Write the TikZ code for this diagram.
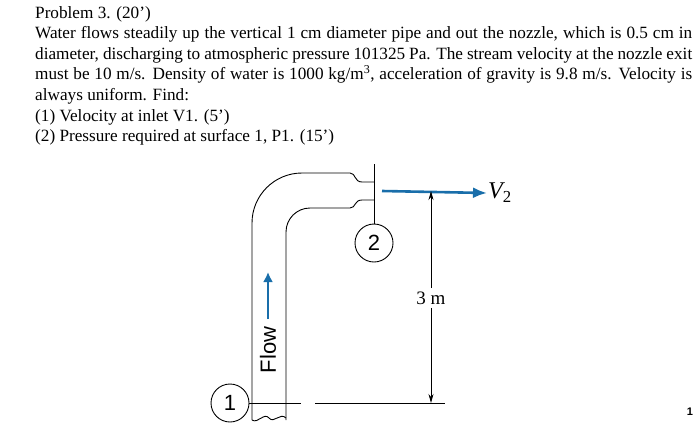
\documentclass[tikz,border=0pt]{standalone}
\usepackage{fontspec}
\setmainfont{Liberation Serif}
\newfontfamily\sansf{Liberation Sans}
\begin{document}
\begin{tikzpicture}[x=1pt,y=-1pt,
  wall/.style={line width=0.9pt,black},
  blue arrow/.style={line width=2.6pt,color=flowblue,-{Latex[length=14pt,width=11pt]}},
  station/.style={circle,draw,line width=0.9pt,minimum size=38pt,inner sep=0pt,font=\sansf\fontsize{22}{22}\selectfont}]
\usetikzlibrary{arrows.meta}
\definecolor{flowblue}{RGB}{25,110,170}
\useasboundingbox (0,0) rectangle (700,434);
\node[anchor=north west,inner sep=0pt,text width=657pt,align=justify,font=\fontsize{17.2}{20.6}\selectfont] (txt) at (35,6)
{Problem 3. (20’)\\
Water flows steadily up the vertical 1 cm diameter pipe and out the nozzle, which is 0.5 cm in diameter, discharging to atmospheric pressure 101325 Pa. The stream velocity at the nozzle exit must be 10 m/s. Density of water is 1000 kg/m\textsuperscript{3}, acceleration of gravity is 9.8 m/s. Velocity is always uniform. Find:\\
(1) Velocity at inlet V1. (5’)\\
(2) Pressure required at surface 1, P1. (15’)};
% pipe
\draw[wall] (252,420) -- (252,223) arc[start angle=180,end angle=270,radius=50] -- (350,173)
  .. controls (356,173) and (354,182) .. (362,182) -- (374,182);
\draw[wall] (286,420) -- (286,232) arc[start angle=180,end angle=270,radius=24] -- (350,208)
  .. controls (356,208) and (354,200) .. (362,200) -- (374,200);
\draw[wall] (252,420) .. controls (258,424) and (264,412) .. (269,418) .. controls (274,424) and (280,412) .. (286,418);
\node[station] (s2) at (374,243) {2};
\coordinate (ntop) at (374,164);
\draw[wall] (ntop) -- (s2.north);
\node[station] (s1) at (230,403) {1};
\coordinate (b1) at (301,403);
\coordinate (b2) at (315,403);
\coordinate (b3) at (445,403);
\draw[wall] (s1.east) -- (b1);
\draw[wall] (b2) -- (b3);
% velocity
\coordinate (v0) at (382,191);
\node[font=\itshape\fontsize{24}{24}\selectfont,anchor=west,inner sep=1pt] (v2) at (487,193) {V\textsubscript{\upshape 2}};
\draw[blue arrow] (v0) -- (v2.west);
% dimension
\node[font=\fontsize{19}{19}\selectfont,fill=white] (dim) at (431,298) {3 m};
\coordinate (d1) at (431,191);
\coordinate (d2) at (431,403);
\draw[line width=0.8pt,-{Stealth[length=9pt,width=5pt]}] (dim.north) -- (d1);
\draw[line width=0.8pt,-{Stealth[length=9pt,width=5pt]}] (dim.south) -- (d2);
% flow
\node[rotate=90,font=\sansf\fontsize{22}{22}\selectfont] (flow) at (268,350) {Flow};
\coordinate (ftip) at (268,272);
\draw[line width=2.6pt,color=flowblue,-{Latex[length=10pt,width=10pt]}] (268,319) -- (ftip);
\node[font=\sansf\bfseries\fontsize{11}{11}\selectfont] (pg) at (690,412) {1};
\end{tikzpicture}
\end{document}
